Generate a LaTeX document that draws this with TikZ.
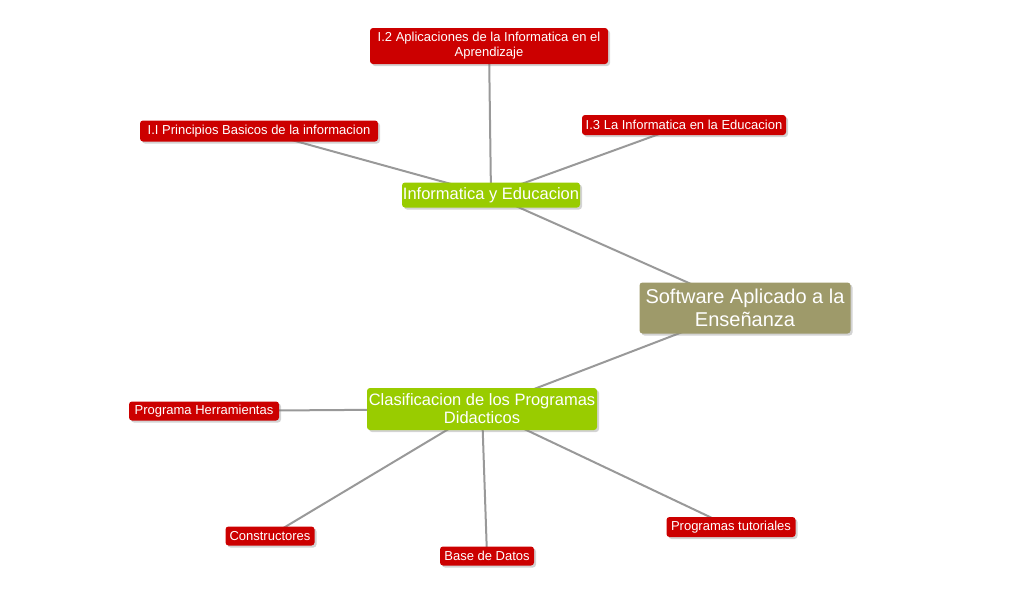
\documentclass[tikz,border=0pt]{standalone}
\usepackage{fontspec}
\setmainfont{Liberation Sans}
\usetikzlibrary{backgrounds,shadows}
\definecolor{redbox}{HTML}{CC0000}
\definecolor{greenbox}{HTML}{99CC00}
\definecolor{rootbox}{HTML}{9E9A6A}
\definecolor{edge}{HTML}{999999}
\tikzset{
  base/.style={text=white, rounded corners=3pt, align=center, inner sep=0pt,
    drop shadow={shadow xshift=2pt, shadow yshift=-2pt, opacity=0.35}},
  leaf/.style={base, fill=redbox, font=\fontsize{13}{15}\selectfont},
  mid/.style={base, fill=greenbox, font=\fontsize{16.5}{18}\selectfont},
  rootn/.style={base, fill=rootbox, font=\fontsize{20}{23}\selectfont},
  link/.style={draw=edge, line width=2pt}
}
\begin{document}
\begin{tikzpicture}[x=1pt,y=-1pt]
\useasboundingbox (0,0) rectangle (1016,600);
\node[rootn, minimum width=211pt, minimum height=51pt] (root) at (745,308) {Software Aplicado a la\\Enseñanza};
\node[mid, minimum width=178pt, minimum height=25pt] (ie) at (491,195) {Informatica y Educacion};
\node[mid, minimum width=230pt, minimum height=42pt] (cl) at (482,409) {Clasificacion de los Programas\\Didacticos};
\node[leaf, minimum width=238pt, minimum height=36pt] (i2) at (489,46) {I.2 Aplicaciones de la Informatica en el\\Aprendizaje};
\node[leaf, minimum width=238pt, minimum height=21pt] (i1) at (259,131) {I.I Principios Basicos de la informacion};
\node[leaf, minimum width=204pt, minimum height=20pt] (i3) at (684,125) {I.3 La Informatica en la Educacion};
\node[leaf, minimum width=150pt, minimum height=19pt] (ph) at (204,411) {Programa Herramientas};
\node[leaf, minimum width=89pt, minimum height=19pt] (co) at (270,536) {Constructores};
\node[leaf, minimum width=94pt, minimum height=19pt] (bd) at (487,556) {Base de Datos};
\node[leaf, minimum width=129pt, minimum height=20pt] (pt) at (731,527) {Programas tutoriales};
\begin{scope}[on background layer]
\draw[link] (root.center) -- (ie.center);
\draw[link] (root.center) -- (cl.center);
\draw[link] (ie.center) -- (i1.center);
\draw[link] (ie.center) -- (i2.center);
\draw[link] (ie.center) -- (i3.center);
\draw[link] (cl.center) -- (ph.center);
\draw[link] (cl.center) -- (co.center);
\draw[link] (cl.center) -- (bd.center);
\draw[link] (cl.center) -- (pt.center);
\end{scope}
\end{tikzpicture}
\end{document}
